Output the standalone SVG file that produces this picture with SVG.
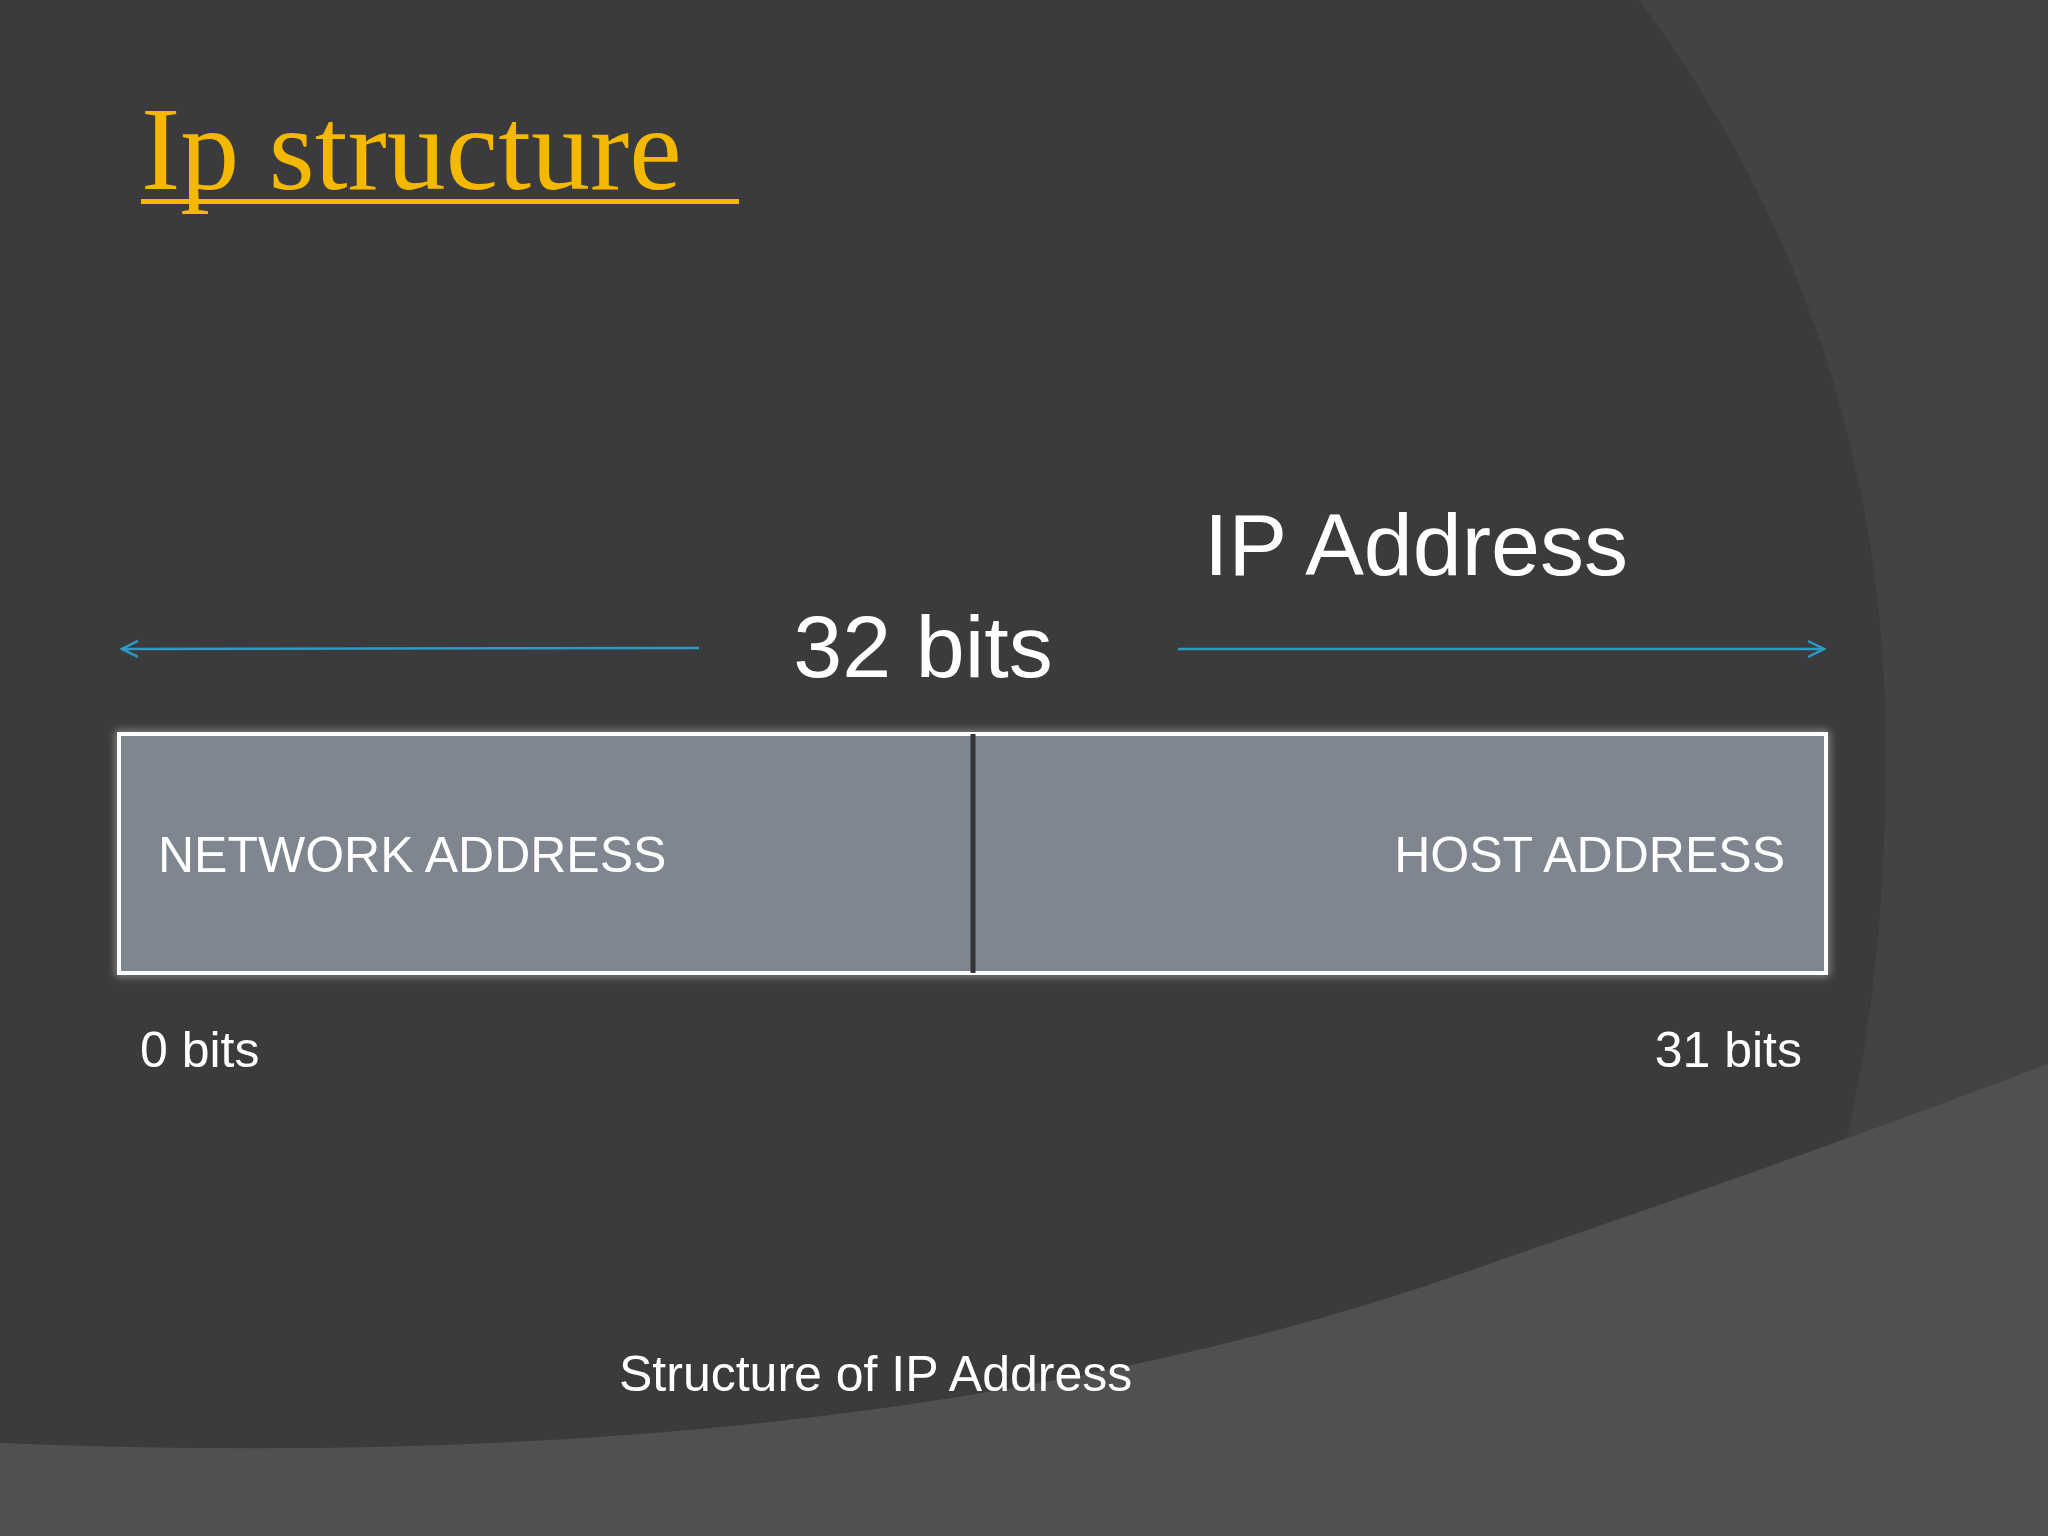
<svg xmlns="http://www.w3.org/2000/svg" width="2048" height="1536" viewBox="0 0 2048 1536">
<defs>
<style>
.t{font-family:"Liberation Sans",Arial,sans-serif;fill:#ffffff}
.ln{stroke:#2e9ac4;stroke-width:2.5;fill:none}
</style>
<marker id="ah" markerWidth="20" markerHeight="20" refX="18" refY="10" orient="auto-start-reverse" markerUnits="userSpaceOnUse">
<path d="M2,2 L18,10 L2,18" fill="none" stroke="#2e9ac4" stroke-width="2.5"/>
</marker>
<filter id="glow" x="-5%" y="-10%" width="110%" height="120%"><feGaussianBlur stdDeviation="4"/></filter>
</defs>
<rect width="2048" height="1536" fill="#3b3b3d"/>
<path d="M1639,0 Q1900,350 1885,800 Q1880,1200 1700,1536 L2048,1536 L2048,0 Z" fill="#434345"/>
<path d="M0,1443 Q900,1480 1500,1260 Q1850,1140 2048,1064 L2048,1536 L0,1536 Z" fill="#505052"/>
<g id="title">
<text x="141" y="189" font-family="Liberation Serif,'Times New Roman',serif" font-size="118" fill="#f5b800">Ip structure</text>
<rect x="141" y="199" width="598" height="5" fill="#f5b800"/>
</g>
<g id="connectors">
<line class="ln" x1="699" y1="648" x2="122" y2="649" marker-end="url(#ah)"/>
<line class="ln" x1="1178" y1="649" x2="1824" y2="649" marker-end="url(#ah)"/>
</g>
<g id="labels">
<text class="t" x="923" y="677" font-size="88" text-anchor="middle">32 bits</text>
<text class="t" x="1204" y="575" font-size="88">IP Address</text>
</g>
<g id="box">
<rect x="119" y="734" width="1707" height="239" fill="none" stroke="#ffffff" stroke-width="6" opacity="0.5" filter="url(#glow)"/>
<rect x="119" y="734" width="1707" height="239" fill="#808690" stroke="#ffffff" stroke-width="4"/>
<line x1="973" y1="734" x2="973" y2="973" stroke="#333335" stroke-width="5"/>
<text class="t" x="158" y="872" font-size="50">NETWORK ADDRESS</text>
<text class="t" x="1785" y="872" font-size="50" text-anchor="end">HOST ADDRESS</text>
</g>
<g id="bits">
<text class="t" x="140" y="1067" font-size="50">0 bits</text>
<text class="t" x="1802" y="1067" font-size="50" text-anchor="end">31 bits</text>
</g>
<text class="t" x="619" y="1391" font-size="50">Structure of IP Address</text>
</svg>
